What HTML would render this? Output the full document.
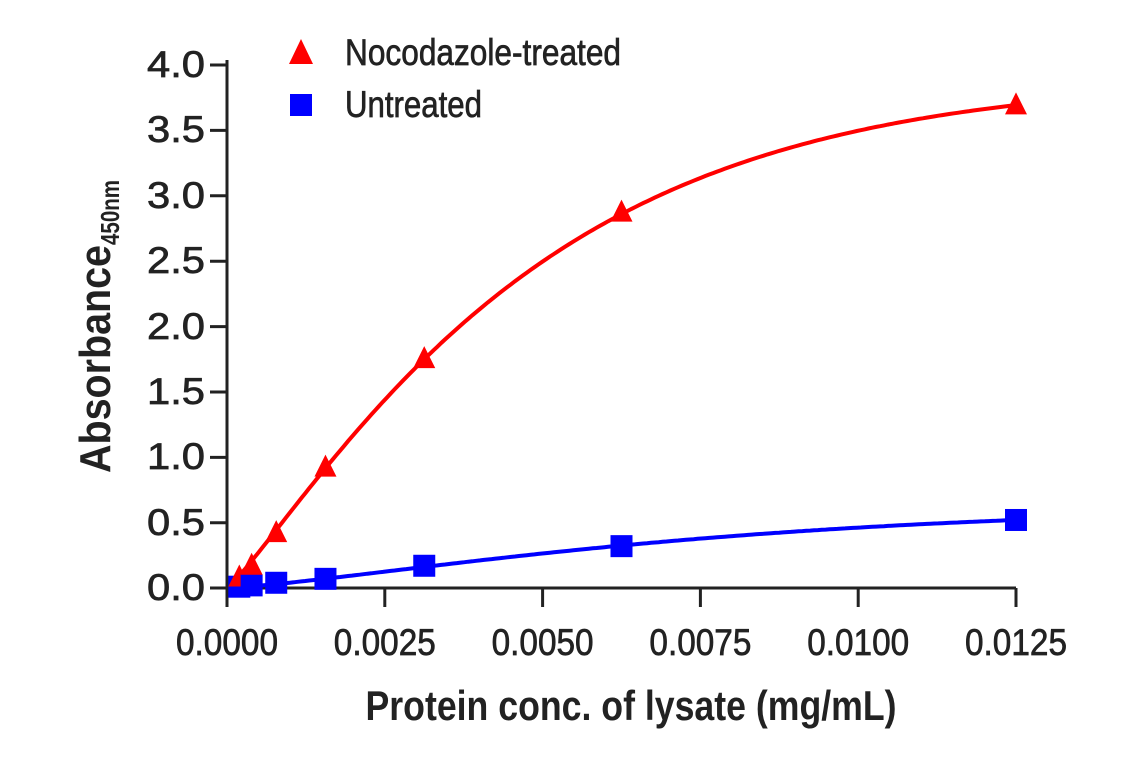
<!DOCTYPE html>
<html><head><style>
body{margin:0;background:#fff;}
svg text{font-family:"Liberation Sans Narrow","Liberation Sans",sans-serif;fill:#222;}
.m{stroke:#222;stroke-width:0.7;}
</style></head><body>
<svg width="1141" height="768" viewBox="0 0 1141 768" xmlns="http://www.w3.org/2000/svg">
<g stroke="#222" stroke-width="3" fill="none">
<line x1="227" y1="60" x2="227" y2="607"/>
<line x1="210" y1="588" x2="1016" y2="588"/>
<line x1="210" y1="65" x2="227" y2="65"/>
<line x1="210" y1="130.4" x2="227" y2="130.4"/>
<line x1="210" y1="195.8" x2="227" y2="195.8"/>
<line x1="210" y1="261.2" x2="227" y2="261.2"/>
<line x1="210" y1="326.6" x2="227" y2="326.6"/>
<line x1="210" y1="392" x2="227" y2="392"/>
<line x1="210" y1="457.4" x2="227" y2="457.4"/>
<line x1="210" y1="522.8" x2="227" y2="522.8"/>
<line x1="384.8" y1="588" x2="384.8" y2="607"/>
<line x1="542.6" y1="588" x2="542.6" y2="607"/>
<line x1="700.4" y1="588" x2="700.4" y2="607"/>
<line x1="858.2" y1="588" x2="858.2" y2="607"/>
<line x1="1016" y1="588" x2="1016" y2="607"/>
</g>
<g font-size="37" text-anchor="end" class="m">
<text x="205" y="77" textLength="58" lengthAdjust="spacingAndGlyphs">4.0</text>
<text x="205" y="142" textLength="58" lengthAdjust="spacingAndGlyphs">3.5</text>
<text x="205" y="208" textLength="58" lengthAdjust="spacingAndGlyphs">3.0</text>
<text x="205" y="273" textLength="58" lengthAdjust="spacingAndGlyphs">2.5</text>
<text x="205" y="339" textLength="58" lengthAdjust="spacingAndGlyphs">2.0</text>
<text x="205" y="404" textLength="58" lengthAdjust="spacingAndGlyphs">1.5</text>
<text x="205" y="469" textLength="58" lengthAdjust="spacingAndGlyphs">1.0</text>
<text x="205" y="535" textLength="58" lengthAdjust="spacingAndGlyphs">0.5</text>
<text x="205" y="600" textLength="58" lengthAdjust="spacingAndGlyphs">0.0</text>
</g>
<g font-size="37" text-anchor="middle" class="m">
<text x="227" y="655" textLength="102" lengthAdjust="spacingAndGlyphs">0.0000</text>
<text x="384.8" y="655" textLength="102" lengthAdjust="spacingAndGlyphs">0.0025</text>
<text x="542.6" y="655" textLength="102" lengthAdjust="spacingAndGlyphs">0.0050</text>
<text x="700.4" y="655" textLength="102" lengthAdjust="spacingAndGlyphs">0.0075</text>
<text x="858.2" y="655" textLength="102" lengthAdjust="spacingAndGlyphs">0.0100</text>
<text x="1016" y="655" textLength="102" lengthAdjust="spacingAndGlyphs">0.0125</text>
</g>
<text x="631" y="720" font-size="42" font-weight="bold" text-anchor="middle" textLength="531" lengthAdjust="spacingAndGlyphs">Protein conc. of lysate (mg/mL)</text>
<text transform="translate(110,473) rotate(-90)" font-size="44" font-weight="bold"><tspan textLength="228" lengthAdjust="spacingAndGlyphs">Absorbance</tspan><tspan font-size="26" dy="9" textLength="65" lengthAdjust="spacingAndGlyphs">450nm</tspan></text>
<path id="red" fill="none" stroke="#f00" stroke-width="4"/>
<path id="blue" fill="none" stroke="#00f" stroke-width="4"/>
<g id="marks"></g>
<polygon points="301,39 289,64 313,64" fill="#f00"/>
<text x="345" y="65" font-size="37" class="m" textLength="276" lengthAdjust="spacingAndGlyphs">Nocodazole-treated</text>
<rect x="290" y="94" width="22" height="22" fill="#00f"/>
<text x="345" y="117" font-size="37" class="m" textLength="137" lengthAdjust="spacingAndGlyphs">Untreated</text>
</svg>
<script>
var xs=[0.000195,0.00039,0.00078,0.00156,0.003125,0.00625,0.0125];
var r=[0.08,0.17,0.42,0.92,1.75,2.87,3.69], b=[0.01,0.02,0.04,0.07,0.17,0.32,0.52];
function P(x,v){return [227+x*63120,588-v*130.8];}
function fr(x){return 3.9*(1-Math.exp(-Math.pow(x/0.004908,1.15)));}
function fb(x){return 0.62*(1-Math.exp(-Math.pow(x/0.00787,1.3)));}
function path(f){var d="";for(var i=0;i<=200;i++){var x=0.000195+(0.0125-0.000195)*i/200;var q=P(x,f(x));d+=(i?"L":"M")+q[0].toFixed(1)+","+q[1].toFixed(1);}return d;}
document.getElementById("red").setAttribute("d",path(fr));
document.getElementById("blue").setAttribute("d",path(fb));
var g=document.getElementById("marks"),s="";
xs.forEach(function(x,i){var q=P(x,b[i]);s+='<rect x="'+(q[0]-11)+'" y="'+(q[1]-11)+'" width="22" height="22" fill="#00f"/>';
var t=P(x,r[i]);s+='<polygon points="'+t[0]+','+(t[1]-13)+' '+(t[0]-11)+','+(t[1]+9)+' '+(t[0]+11)+','+(t[1]+9)+'" fill="#f00"/>';});
g.innerHTML=s;
</script>
</body></html>
